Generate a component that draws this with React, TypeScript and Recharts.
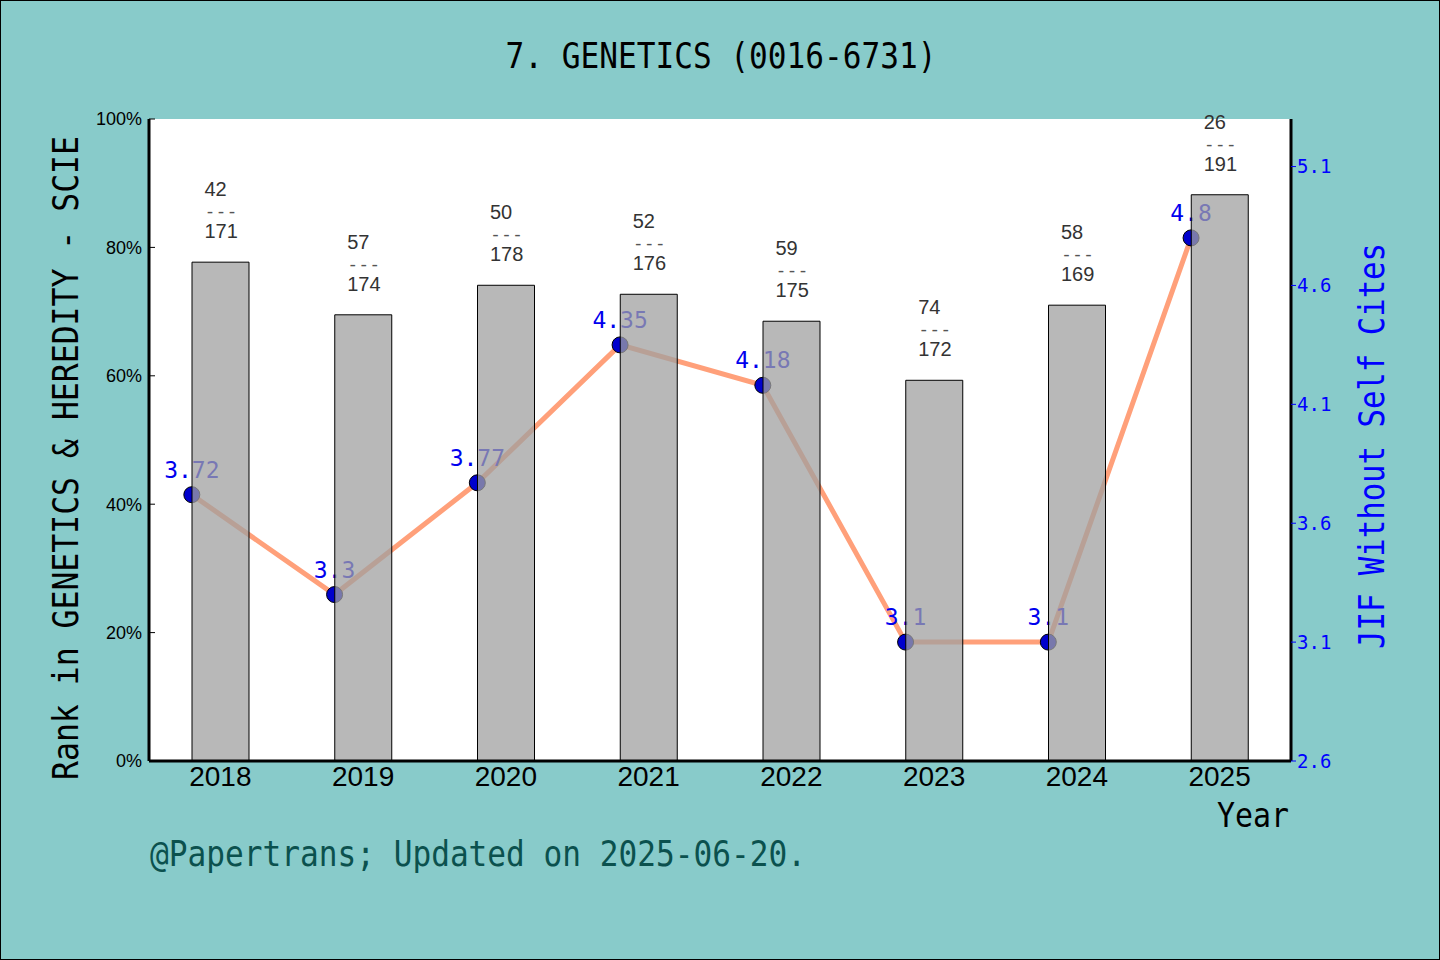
import React from 'react';
import { ComposedChart, Bar, Line, Scatter, XAxis, YAxis, CartesianGrid, LabelList } from 'recharts';

const years = ['2018', '2019', '2020', '2021', '2022', '2023', '2024', '2025'];
const ranks = [42, 57, 50, 52, 59, 74, 58, 26];
const totals = [171, 174, 178, 176, 175, 172, 169, 191];
const rankPercent = [77.7, 69.5, 74.1, 72.7, 68.5, 59.3, 71.0, 88.2];
const jifNoSelf = [3.72, 3.3, 3.77, 4.35, 4.18, 3.1, 3.1, 4.8];
const leftTicks = [0, 20, 40, 60, 80, 100];
const rightTicks = [2.6, 3.1, 3.6, 4.1, 4.6, 5.1];
const boundaryTicks = [1, 2, 3, 4, 5, 6, 7];

const data = years.map((year, i) => ({
  year,
  idx: i,
  pct: rankPercent[i],
  jif: jifNoSelf[i],
  rank: ranks[i],
  total: totals[i],
}));

const MONO = '"DejaVu Sans Mono", "Liberation Mono", monospace';
const SANS = '"Liberation Sans", Arial, sans-serif';

const makeBarText = (offset: number, fixed?: string) => (props: any) => {
  const { x, y, width, value } = props;
  const tx = Number(x) + Number(width) / 2 - 16;
  return (
    <text x={tx} y={Number(y) - offset} fill="#333" fontFamily={SANS} fontSize={20} textAnchor="start">
      {fixed ?? String(value)}
    </text>
  );
};

const DashText = (props: any) => {
  const { x, y, width } = props;
  const tx = Number(x) + Number(width) / 2 - 16;
  return (
    <text x={tx} y={Number(y) - 45} fill="#555" fontFamily={MONO} fontSize={18} textAnchor="start" textLength={33} lengthAdjust="spacingAndGlyphs">
      ---
    </text>
  );
};

const LineLabel = (props: any) => {
  const { x, y, value } = props;
  return (
    <text x={Number(x)} y={Number(y) - 17} fill="#0000ee" fontFamily={MONO} fontSize={23} textAnchor="middle">
      {String(value)}
    </text>
  );
};

const DotShape = (props: any) => {
  const { cx, cy } = props;
  return <circle cx={cx} cy={cy} r={8} fill="#0000cd" stroke="#000" strokeWidth={1} />;
};

export default function App() {
  return (
    <div
      style={{
        position: 'absolute',
        left: 0,
        top: 0,
        width: 1440,
        height: 960,
        background: '#88cbca',
        outline: '1px solid #000',
        outlineOffset: -1,
      }}
    >
      <ComposedChart
        width={1440}
        height={960}
        data={data}
        margin={{ top: 119, right: 0, bottom: 159, left: 0 }}
      >
        <CartesianGrid fill="#ffffff" horizontal={false} vertical={false} xAxisId="cat" yAxisId="rank" />
        <XAxis
          xAxisId="bnd"
          type="number"
          dataKey="idx"
          domain={[0, 8]}
          ticks={boundaryTicks}
          allowDataOverflow
          orientation="bottom"
          height={0}
          mirror
          tick={false}
          tickSize={6}
          tickLine={{ stroke: '#000', strokeWidth: 1 }}
          axisLine={false}
        />
        <XAxis
          xAxisId="cat"
          dataKey="year"
          orientation="bottom"
          height={40}
          tickLine={false}
          tickSize={3}
          tickMargin={2}
          axisLine={{ stroke: '#000', strokeWidth: 3 }}
          tick={{ fill: '#000', fontSize: 28, fontFamily: SANS }}
          interval={0}
        />
        <XAxis
          xAxisId="top"
          dataKey="year"
          orientation="top"
          height={0}
          tick={false}
          tickLine={false}
          axisLine={{ stroke: '#000', strokeWidth: 3 }}
        />
        <XAxis xAxisId="line" type="number" dataKey="idx" domain={[-0.3, 7.7]} allowDataOverflow hide />
        <YAxis
          yAxisId="rank"
          orientation="left"
          width={149}
          domain={[0, 100]}
          ticks={leftTicks}
          allowDataOverflow
          tickFormatter={(v: number) => `${v}%`}
          tickSize={-6}
          tickMargin={13}
          tickLine={{ stroke: '#000', strokeWidth: 1 }}
          axisLine={{ stroke: '#000', strokeWidth: 3 }}
          tick={{ fill: '#000', fontSize: 18, fontFamily: SANS }}
        />
        <YAxis
          yAxisId="jif"
          orientation="right"
          width={149}
          domain={[2.6, 5.3]}
          ticks={rightTicks}
          allowDataOverflow
          tickFormatter={(v: number) => v.toFixed(1)}
          tickSize={5}
          tickMargin={1}
          tickLine={{ stroke: '#0000ff', strokeWidth: 1 }}
          axisLine={{ stroke: '#000', strokeWidth: 3 }}
          tick={{ fill: '#0000ff', fontSize: 19, fontFamily: MONO, textAnchor: 'start' }}
        />
        <Line
          xAxisId="line"
          yAxisId="jif"
          dataKey="jif"
          type="linear"
          stroke="#ffa07a"
          strokeWidth={5}
          dot={false}
          activeDot={false}
          isAnimationActive={false}
          zIndex={250}
        >
          <LabelList dataKey="jif" content={LineLabel} zIndex={260} />
        </Line>
        <Scatter
          xAxisId="line"
          yAxisId="jif"
          dataKey="jif"
          shape={DotShape}
          isAnimationActive={false}
          zIndex={255}
        />
        <Bar
          xAxisId="cat"
          yAxisId="rank"
          dataKey="pct"
          barSize={57}
          fill="#a0a0a0"
          fillOpacity={0.75}
          stroke="#000"
          strokeWidth={1}
          isAnimationActive={false}
          zIndex={300}
        >
          <LabelList dataKey="rank" content={makeBarText(66)} />
          <LabelList dataKey="pct" content={DashText} />
          <LabelList dataKey="total" content={makeBarText(24)} />
        </Bar>
      </ComposedChart>
      <svg
        width={1440}
        height={960}
        style={{ position: 'absolute', left: 0, top: 0, pointerEvents: 'none' }}
      >
        <text x={721} y={68} fontFamily={MONO} fontSize={36} textAnchor="middle" fill="#000" textLength={431} lengthAdjust="spacingAndGlyphs">
          7. GENETICS (0016-6731)
        </text>
        <text
          x={0}
          y={0}
          transform="translate(78 458) rotate(-90)"
          fontFamily={MONO}
          fontSize={36}
          textAnchor="middle"
          fill="#000"
          textLength={644}
          lengthAdjust="spacingAndGlyphs"
        >
          Rank in GENETICS &amp; HEREDITY - SCIE
        </text>
        <text
          x={0}
          y={0}
          transform="translate(1384 446) rotate(-90)"
          fontFamily={MONO}
          fontSize={36}
          textAnchor="middle"
          fill="#0000ff"
          textLength={406}
          lengthAdjust="spacingAndGlyphs"
        >
          JIF Without Self Cites
        </text>
        <text x={1217} y={827} fontFamily={MONO} fontSize={34} fill="#000" textLength={72} lengthAdjust="spacingAndGlyphs">
          Year
        </text>
        <text x={150} y={866} fontFamily={MONO} fontSize={36} fill="#0b514e" textLength={656} lengthAdjust="spacingAndGlyphs">
          @Papertrans; Updated on 2025-06-20.
        </text>
      </svg>
    </div>
  );
}
